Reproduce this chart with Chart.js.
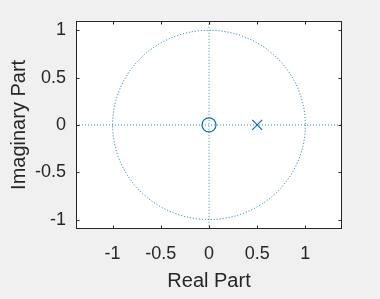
<!DOCTYPE html>
<html>
<head>
<meta charset="utf-8">
<script src="https://cdn.jsdelivr.net/npm/chart.js@4.4.0/dist/chart.umd.min.js"></script>
<style>
    html, body { margin: 0; padding: 0; background: #f0f0f0; }
    #wrap { width: 380px; height: 299px; }
</style>
</head>
<body>
<div id="wrap"><canvas id="zp" width="380" height="299"></canvas></div>
<script>
// pole-zero data
const zerosRe = [0];
const zerosIm = [0];
const polesRe = [0.5];
const polesIm = [0];
const unitCircle = { cx: 0, cy: 0, r: 1 };

// axis ranges and tick labels
const xRange = [-1.38, 1.38];
const yRange = [-1.1, 1.1];
const xTicks = [-1, -0.5, 0, 0.5, 1];
const yTicks = [-1, -0.5, 0, 0.5, 1];

const blue = '#0072BD';
const axisColor = '#262626';
const fontFamily = "'Liberation Sans', Arial, sans-serif";

// white plot area, unit circle, dotted axes, box and inward ticks
const zplanePlugin = {
    id: 'zplane',
    beforeDatasetsDraw(chart) {
        const { ctx, chartArea: a, scales: { x, y } } = chart;
        ctx.save();
        ctx.fillStyle = '#ffffff';
        ctx.fillRect(a.left, a.top, a.right - a.left, a.bottom - a.top);

        ctx.beginPath();
        ctx.rect(a.left, a.top, a.right - a.left, a.bottom - a.top);
        ctx.clip();

        ctx.strokeStyle = blue;
        ctx.lineWidth = 1;
        ctx.setLineDash([1, 2]);

        // unit circle
        const cx = x.getPixelForValue(unitCircle.cx);
        const cy = y.getPixelForValue(unitCircle.cy);
        const rx = x.getPixelForValue(unitCircle.cx + unitCircle.r) - cx;
        const ry = cy - y.getPixelForValue(unitCircle.cy + unitCircle.r);
        ctx.beginPath();
        ctx.ellipse(cx, cy, rx, ry, 0, 0, Math.PI * 2);
        ctx.stroke();

        // real and imaginary axes (left unaligned so they soften like the original)
        ctx.globalAlpha = 0.8;
        ctx.beginPath();
        ctx.moveTo(a.left, Math.round(cy));
        ctx.lineTo(a.right, Math.round(cy));
        ctx.moveTo(Math.round(cx), a.top);
        ctx.lineTo(Math.round(cx), a.bottom);
        ctx.stroke();
        ctx.restore();
    },
    afterDatasetsDraw(chart) {
        const { ctx, chartArea: a, scales: { x, y } } = chart;
        ctx.save();
        ctx.strokeStyle = axisColor;
        ctx.lineWidth = 1;
        ctx.setLineDash([]);
        const L = Math.round(a.left) + 0.5, R = Math.round(a.right) - 0.5;
        const T = Math.round(a.top) + 0.5, B = Math.round(a.bottom) - 0.5;
        ctx.strokeRect(L, T, R - L, B - T);
        const tl = 3;
        ctx.beginPath();
        xTicks.forEach(v => {
            const px = Math.round(x.getPixelForValue(v)) + 0.5;
            ctx.moveTo(px, B); ctx.lineTo(px, B - tl);
            ctx.moveTo(px, T); ctx.lineTo(px, T + tl);
        });
        yTicks.forEach(v => {
            const py = Math.round(y.getPixelForValue(v)) + 0.5;
            ctx.moveTo(L, py); ctx.lineTo(L + tl, py);
            ctx.moveTo(R, py); ctx.lineTo(R - tl, py);
        });
        ctx.stroke();
        ctx.restore();
    }
};

new Chart(document.getElementById('zp'), {
    type: 'scatter',
    data: {
        datasets: [
            {
                label: 'Zeros',
                data: zerosRe.map((re, i) => ({ x: re, y: zerosIm[i] })),
                pointStyle: 'circle',
                pointRadius: 7,
                pointBorderWidth: 1.2,
                pointBorderColor: blue,
                pointBackgroundColor: 'transparent'
            },
            {
                label: 'Poles',
                data: polesRe.map((re, i) => ({ x: re, y: polesIm[i] })),
                pointStyle: 'crossRot',
                pointRadius: 7,
                pointBorderWidth: 1.2,
                pointBorderColor: blue
            }
        ]
    },
    options: {
        responsive: false,
        animation: false,
        events: [],
        layout: { padding: { left: 0, top: 18, right: 38, bottom: 0 } },
        plugins: { legend: { display: false }, tooltip: { enabled: false } },
        scales: {
            x: {
                type: 'linear',
                min: xRange[0],
                max: xRange[1],
                afterBuildTicks: s => { s.ticks = xTicks.map(v => ({ value: v })); },
                afterFit: s => { s.height = 70; },
                grid: { display: false, drawTicks: false },
                border: { display: false },
                ticks: {
                    padding: 14,
                    color: axisColor,
                    font: { family: fontFamily, size: 18 },
                    maxRotation: 0,
                    callback: v => String(v)
                },
                title: {
                    display: true,
                    text: 'Real Part',
                    color: axisColor,
                    font: { family: fontFamily, size: 20 },
                    padding: { top: 0, bottom: 6 }
                }
            },
            y: {
                type: 'linear',
                min: yRange[0],
                max: yRange[1],
                afterBuildTicks: s => { s.ticks = yTicks.map(v => ({ value: v })); },
                afterFit: s => { s.width = 76; },
                grid: { display: false, drawTicks: false },
                border: { display: false },
                ticks: {
                    padding: 10,
                    color: axisColor,
                    font: { family: fontFamily, size: 18 },
                    callback: v => String(v)
                },
                title: {
                    display: true,
                    text: 'Imaginary Part',
                    color: axisColor,
                    font: { family: fontFamily, size: 20 },
                    padding: { top: 7, bottom: 0 }
                }
            }
        }
    },
    plugins: [zplanePlugin]
});
</script>
</body>
</html>
